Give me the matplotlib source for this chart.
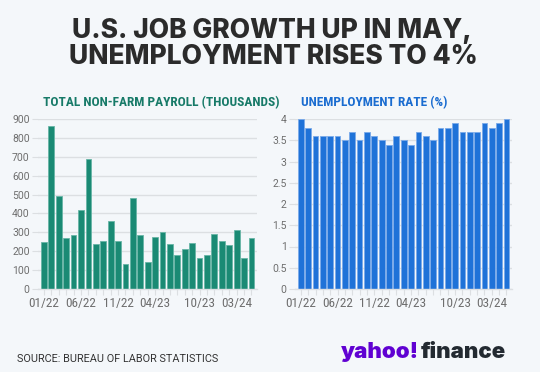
import matplotlib
matplotlib.use("Agg")
import matplotlib.pyplot as plt
import numpy as np

months = ["01/22", "02/22", "03/22", "04/22", "05/22", "06/22", "07/22", "08/22", "09/22", "10/22",
          "11/22", "12/22", "01/23", "02/23", "03/23", "04/23", "05/23", "06/23", "07/23", "08/23",
          "09/23", "10/23", "11/23", "12/23", "01/24", "02/24", "03/24", "04/24", "05/24"]
payroll = [250, 865, 495, 270, 285, 420, 690, 240, 255, 360,
           255, 135, 480, 285, 145, 275, 300, 240, 180, 210,
           245, 165, 180, 290, 255, 235, 310, 165, 270]
unemployment = [4.0, 3.8, 3.6, 3.6, 3.6, 3.6, 3.5, 3.7, 3.5, 3.7,
                3.6, 3.5, 3.4, 3.6, 3.5, 3.4, 3.7, 3.6, 3.5, 3.8,
                3.8, 3.9, 3.7, 3.7, 3.7, 3.9, 3.8, 3.9, 4.0]
shown_labels = ["01/22", "06/22", "11/22", "04/23", "10/23", "03/24"]
payroll_ticks = [0, 100, 200, 300, 400, 500, 600, 700, 800, 900]
rate_ticks = [0, 0.5, 1, 1.5, 2, 2.5, 3, 3.5, 4]
rate_ticklabels = ["0", "0.5", "1", "1.5", "2", "2.5", "3", "3.5", "4"]

BG = "#f4f7fa"
W, H = 540, 372
fig = plt.figure(figsize=(W / 100, H / 100), dpi=100, facecolor=BG)

def px_axes(x0, x1, ytop, ybot):
    return fig.add_axes([x0 / W, 1 - ybot / H, (x1 - x0) / W, (ybot - ytop) / H])

GRID = "#dcdfe2"
TICKC = "#6e6e6e"

def style(ax, yticks, yticklabels, ylim):
    ax.set_facecolor(BG)
    for s in ["top", "right", "left"]:
        ax.spines[s].set_visible(False)
    ax.spines["bottom"].set_color(GRID)
    ax.spines["bottom"].set_linewidth(1.0)
    ax.set_ylim(*ylim)
    ax.set_yticks(yticks)
    ax.set_yticklabels(yticklabels, fontfamily="Roboto", fontsize=7.5, color=TICKC)
    ax.yaxis.grid(True, color=GRID, linewidth=1.0)
    ax.set_axisbelow(True)
    ax.tick_params(axis="y", length=4, color=GRID, pad=2)
    x = np.arange(len(months))
    ax.set_xticks(x)
    ax.set_xticklabels([m if m in shown_labels else "" for m in months],
                       fontfamily="Roboto Condensed", fontsize=9.5, color=TICKC)
    ax.tick_params(axis="x", length=4, color=GRID, pad=2)
    ax.set_xlim(-0.8, len(months) - 0.25)

x = np.arange(len(months))

ax1 = px_axes(38, 257, 119, 289)
ax1.bar(x, payroll, width=0.78, color="#1a8a74", edgecolor="#68b5a6", linewidth=0.6)
style(ax1, payroll_ticks, [str(t) for t in payroll_ticks], (0, 900))

ax2 = px_axes(295, 512, 119, 289)
ax2.bar(x, unemployment, width=0.78, color="#1f72d8", edgecolor="#7aaaea", linewidth=0.6)
style(ax2, rate_ticks, rate_ticklabels, (0, 4))

# Titles
fig.text(272 / W, 1 - 38 / H, "U.S. JOB GROWTH UP IN MAY,", ha="center", va="baseline",
         fontfamily="Inter", fontweight=800, fontsize=19, color="#2b2b2b")
fig.text(273 / W, 1 - 64 / H, "UNEMPLOYMENT RISES TO 4%", ha="center", va="baseline",
         fontfamily="Inter", fontweight=800, fontsize=19, color="#2b2b2b")

fig.text(43 / W, 1 - 106.5 / H, "TOTAL NON-FARM PAYROLL (THOUSANDS)", ha="left", va="baseline",
         fontfamily="Roboto Condensed", fontweight="bold", fontsize=9.6, color="#177a68")
fig.text(301 / W, 1 - 106.5 / H, "UNEMPLOYMENT RATE (%)", ha="left", va="baseline",
         fontfamily="Roboto Condensed", fontweight="bold", fontsize=9.6, color="#1a6cd0")

fig.text(17 / W, 1 - 362.5 / H, "SOURCE: BUREAU OF LABOR STATISTICS", ha="left", va="baseline",
         fontfamily="Roboto", fontsize=7.8, color="#333333")

fig.text(419 / W, 1 - 358.5 / H, "yahoo!", ha="right", va="baseline",
         fontfamily="Inter", fontweight=900, fontsize=16, color="#6001d2")
fig.text(421 / W, 1 - 358.5 / H, "finance", ha="left", va="baseline",
         fontfamily="Inter", fontweight=900, fontsize=16, color="#232a31")

fig.savefig("out.png", dpi=100, facecolor=BG)
